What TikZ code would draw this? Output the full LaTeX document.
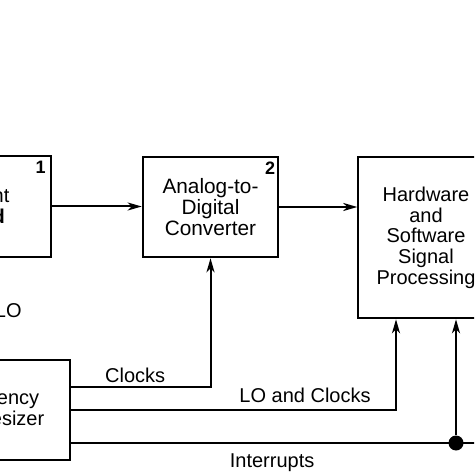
\documentclass[tikz,border=0pt]{standalone}
\usepackage{fontspec}
\setmainfont{Liberation Sans}
\usetikzlibrary{arrows.meta,positioning}

\begin{document}
\begin{tikzpicture}[x=0.5pt,y=-0.5pt,
  blk/.style={draw,line width=1pt,align=center,inner sep=0pt,font=\fontsize{10}{10.3}\selectfont},
  num/.style={inner sep=0pt,anchor=north east,font=\fontsize{9}{10}\selectfont\bfseries},
  lbl/.style={inner sep=1.5pt,font=\fontsize{10}{11}\selectfont},
  sig/.style={line width=1pt},
  arr/.style={sig,-{Stealth[length=7pt,width=4pt,inset=2pt]}},
  dot/.style={circle,fill,inner sep=0pt,minimum size=7.5pt}]
\useasboundingbox (0,0) rectangle (474,474);
\clip (0,0) rectangle (474,474);
\node[blk,minimum width=65pt,minimum height=50.5pt] (front) at (-14,206.5) {Front\\\textbf{End}};
\node[num] (n1) at ([xshift=-3pt,yshift=-2.9pt]front.north east) {1};
\node[blk,minimum width=67.8pt,minimum height=50.3pt,font=\fontsize{10.4}{10.3}\selectfont] (adc) at (210.5,207) {Analog-to-\\Digital\\Converter};
\node[num] (n2) at ([xshift=-1.9pt,yshift=-2.8pt]adc.north east) {2};
\node[blk,minimum width=67.7pt,minimum height=80.5pt] (dsp) at (426,237.8) {Hardware\\and\\Software\\Signal\\Processing};
\node[blk,minimum width=78pt,minimum height=50pt] (synth) at (-8,410) {Frequency\\Synthesizer};
\node[lbl,anchor=east,inner sep=0pt] (lolbl) at (22,311) {LO};
\coordinate (dspa) at ([xshift=-15pt]dsp.south);
\coordinate (dspb) at ([xshift=15pt]dsp.south);
\coordinate (irq) at ([yshift=-16.5pt]synth.east);
\coordinate (irqend) at (490,443);
\draw[arr] (front.east) -- (front.east -| adc.west);
\draw[arr] (adc.east) -- (adc.east -| dsp.west);
\draw[arr] ([yshift=11.7pt]synth.east) -| node[lbl,pos=0.23,above] (clklbl) {Clocks} (adc.south);
\draw[arr] (synth.east) -| node[lbl,pos=0.36,above=1.8pt] (lcklbl) {LO and Clocks} (dspa);
\draw[sig] (irq) -- node[lbl,pos=0.48,below=3.5pt] (irqlbl) {Interrupts} (irqend);
\node[dot] (tap) at (irq -| dspb) {};
\draw[arr] (tap) -- (dspb);
\end{tikzpicture}
\end{document}
